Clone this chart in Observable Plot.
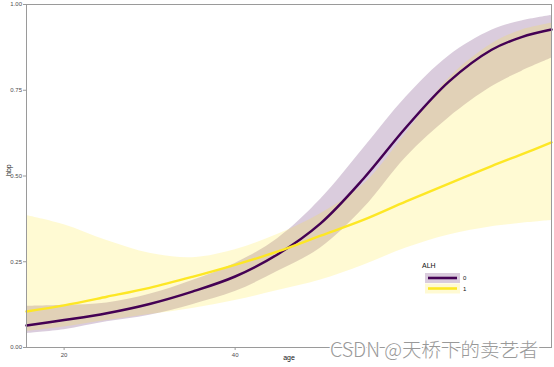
<!DOCTYPE html>
<html><head><meta charset="utf-8">
<script src="https://cdn.jsdelivr.net/npm/d3@7"></script>
<script src="https://cdn.jsdelivr.net/npm/@observablehq/plot@0.6"></script>
<style>body{margin:0;background:#fff} #chart{width:554px;height:367px}</style>
</head><body><div id="chart"></div>
<script>
// age grid at which the fitted curves were read
const ages = [15.6, 20, 25, 30, 35, 40, 45, 50, 55, 60, 65, 70, 73.5, 77];
// ALH = 0
const fit0 = [0.064, 0.080, 0.100, 0.127, 0.163, 0.207, 0.272, 0.362, 0.492, 0.642, 0.775, 0.868, 0.905, 0.927];
const lo0  = [0.041, 0.052, 0.075, 0.094, 0.125, 0.163, 0.222, 0.290, 0.405, 0.555, 0.670, 0.760, 0.805, 0.843];
const hi0  = [0.120, 0.123, 0.130, 0.155, 0.195, 0.245, 0.318, 0.432, 0.580, 0.730, 0.850, 0.925, 0.952, 0.968];
// ALH = 1
const fit1 = [0.105, 0.123, 0.148, 0.174, 0.206, 0.241, 0.280, 0.326, 0.372, 0.426, 0.478, 0.529, 0.563, 0.598];
const lo1  = [0.047, 0.060, 0.079, 0.096, 0.114, 0.137, 0.166, 0.197, 0.240, 0.290, 0.328, 0.352, 0.362, 0.370];
const hi1  = [0.385, 0.358, 0.312, 0.275, 0.262, 0.285, 0.330, 0.390, 0.475, 0.625, 0.785, 0.885, 0.925, 0.945];

const groups = ["0", "1"];
const colors = ["#440154", "#FDE725"];
const xTicks = [20, 40];
const yTicks = [0, 0.25, 0.5, 0.75, 1];

const rows = ages.map((a, i) => ({age: a, fit0: fit0[i], lo0: lo0[i], hi0: hi0[i], fit1: fit1[i], lo1: lo1[i], hi1: hi1[i]}));

const W = 554, H = 367;
const crv = "catmull-rom";
const plot = Plot.plot({
  width: W, height: H,
  marginLeft: 26, marginRight: 3, marginTop: 4, marginBottom: 20,
  x: {domain: [15.6, 77]},
  y: {domain: [0, 1]},
  style: {fontFamily: "Liberation Sans, Arial, sans-serif", background: "#fff"},
  marks: [
    Plot.areaY(rows, {x: "age", y1: "lo0", y2: "hi0", fill: colors[0], fillOpacity: 0.2, curve: crv}),
    Plot.areaY(rows, {x: "age", y1: "lo1", y2: "hi1", fill: colors[1], fillOpacity: 0.2, curve: crv}),
    Plot.lineY(rows, {x: "age", y: "fit0", stroke: colors[0], strokeWidth: 2.5, curve: crv}),
    Plot.lineY(rows, {x: "age", y: "fit1", stroke: colors[1], strokeWidth: 2.4, curve: crv}),
    Plot.frame({stroke: "#9a9a9a", strokeWidth: 1}),
    Plot.axisX({ticks: xTicks, tickSize: 3, tickPadding: 2, fontSize: 6, label: null, stroke: "#9a9a9a", fill: "#4d4d4d"}),
    Plot.axisY({ticks: yTicks, tickSize: 3, tickPadding: 1.5, fontSize: 6, label: null, tickFormat: d3.format(".2f"), stroke: "#9a9a9a", fill: "#4d4d4d"}),
    Plot.text(["age"], {frameAnchor: "bottom", dy: 12, fontSize: 7, fill: "#111"}),
    Plot.text(["hbp"], {frameAnchor: "left", dx: -18, rotate: -90, fontSize: 7, fill: "#111"})
  ]
});

const svg = d3.select(plot);
// legend
const lg = svg.append("g").attr("font-family", "Liberation Sans, Arial, sans-serif").attr("text-anchor", "start");
lg.append("text").attr("x", 422).attr("y", 268).attr("font-size", 7).attr("fill", "#111").text("ALH");
groups.forEach((g, i) => {
  const y0 = 273 + i * 10.5;
  lg.append("rect").attr("x", 425).attr("y", y0).attr("width", 35).attr("height", 10)
    .attr("fill", colors[i]).attr("fill-opacity", 0.2);
  lg.append("line").attr("x1", 428).attr("x2", 457).attr("y1", y0 + 5).attr("y2", y0 + 5)
    .attr("stroke", colors[i]).attr("stroke-width", 2.6);
  lg.append("text").attr("x", 463).attr("y", y0 + 7).attr("font-size", 6).attr("fill", "#111").text(g);
});
// watermark
svg.append("text").attr("x", 330).attr("y", 357).attr("text-anchor", "start")
  .attr("font-family", "Noto Sans CJK SC, sans-serif").attr("font-size", 19.5).attr("font-weight", 300)
  .attr("fill", "#999").attr("stroke", "#fff").attr("stroke-width", 3)
  .attr("paint-order", "stroke").text("CSDN @天桥下的卖艺者");

document.getElementById("chart").appendChild(plot);
</script></body></html>
